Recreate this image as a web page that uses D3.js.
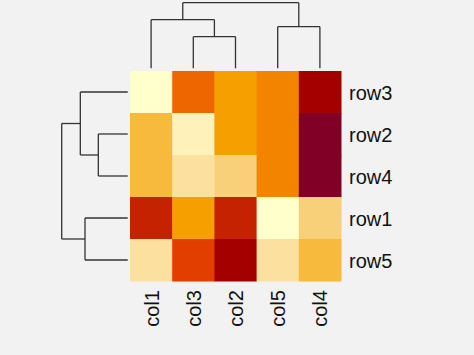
<!DOCTYPE html>
<html>
<head>
<meta charset="utf-8">
<script src="https://cdn.jsdelivr.net/npm/d3@7"></script>
<style>
html,body{margin:0;padding:0;background:#f2f2f2;}
svg{display:block;}
</style>
</head>
<body>
<svg id="chart" width="474" height="355"></svg>
<script>
// ---- data ----
const rowLabels = ["row3", "row2", "row4", "row1", "row5"];
const colLabels = ["col1", "col3", "col2", "col5", "col4"];
// level values (1 = lightest, 12 = darkest), rows in display order
const row3 = [1, 8, 6, 7, 11];
const row2 = [5, 2, 6, 7, 12];
const row4 = [5, 3, 4, 7, 12];
const row1 = [10, 6, 10, 1, 4];
const row5 = [3, 9, 11, 3, 5];
const values = [row3, row2, row4, row1, row5];
const palette = ["#FFFFCC", "#FEF1B9", "#FBE0A0", "#F8D07A", "#F7BA3C", "#F5A000",
                 "#F28400", "#EE6600", "#E23E00", "#C42200", "#A50000", "#800026"];
// dendrogram merges: [left, right, height]; "#k" refers to merge k
const colMerges = [["col3", "col2", 0.482], ["col1", "#0", 0.741], ["col5", "col4", 0.634], ["#1", "#2", 1.0]];
const rowMerges = [["row2", "row4", 0.445], ["row3", "#0", 0.718], ["row1", "row5", 0.647], ["#1", "#2", 1.0]];

// ---- drawing ----
const svg = d3.select("#chart");
const x = d3.scaleBand().domain(colLabels).range([130, 341]).padding(0);
const y = d3.scaleBand().domain(rowLabels).range([71, 281]).padding(0);
const color = d3.scaleQuantize().domain([0.5, 12.5]).range(palette);

const cells = [];
values.forEach((r, i) => r.forEach((v, j) => cells.push({row: rowLabels[i], col: colLabels[j], v})));
svg.append("g").selectAll("rect").data(cells).join("rect")
  .attr("x", d => x(d.col)).attr("y", d => y(d.row))
  .attr("width", x.bandwidth() + 0.5).attr("height", y.bandwidth() + 0.5)
  .attr("fill", d => color(d.v));

// dendrogram helper
function dendro(merges, leafPos, hScale, vertical) {
  const nodes = [];
  function pos(ref) {
    if (typeof ref === "string" && ref.startsWith("#")) return nodes[+ref.slice(1)];
    return {p: leafPos(ref), h: 0};
  }
  const segs = [];
  merges.forEach(m => {
    const a = pos(m[0]), b = pos(m[1]), h = m[2];
    segs.push([a.p, a.h, a.p, h]);
    segs.push([b.p, b.h, b.p, h]);
    segs.push([a.p, h, b.p, h]);
    nodes.push({p: (a.p + b.p) / 2, h});
  });
  const g = svg.append("g").attr("stroke", "#333").attr("stroke-width", 1.3).attr("fill", "none");
  g.selectAll("line").data(segs).join("line")
    .attr("x1", d => vertical ? d[0] : hScale(d[1]))
    .attr("y1", d => vertical ? hScale(d[1]) : d[0])
    .attr("x2", d => vertical ? d[2] : hScale(d[3]))
    .attr("y2", d => vertical ? hScale(d[3]) : d[2]);
}
const colH = d3.scaleLinear().domain([0, 1]).range([68.3, 2.7]);
const rowH = d3.scaleLinear().domain([0, 1]).range([127.7, 61.7]);
dendro(colMerges, c => x(c) + x.bandwidth() / 2, colH, true);
dendro(rowMerges, r => y(r) + y.bandwidth() / 2, rowH, false);

// labels
const font = "'Liberation Sans', Arial, sans-serif";
svg.append("g").selectAll("text").data(rowLabels).join("text")
  .attr("x", 349).attr("y", d => y(d) + y.bandwidth() / 2 + 7.5)
  .attr("font-family", font).attr("font-size", 20).attr("fill", "#111")
  .text(d => d);
svg.append("g").selectAll("text").data(colLabels).join("text")
  .attr("transform", d => `translate(${x(d) + x.bandwidth() / 2 + 7.5},290) rotate(-90)`)
  .attr("text-anchor", "end")
  .attr("font-family", font).attr("font-size", 20).attr("fill", "#111")
  .text(d => d);
</script>
</body>
</html>
